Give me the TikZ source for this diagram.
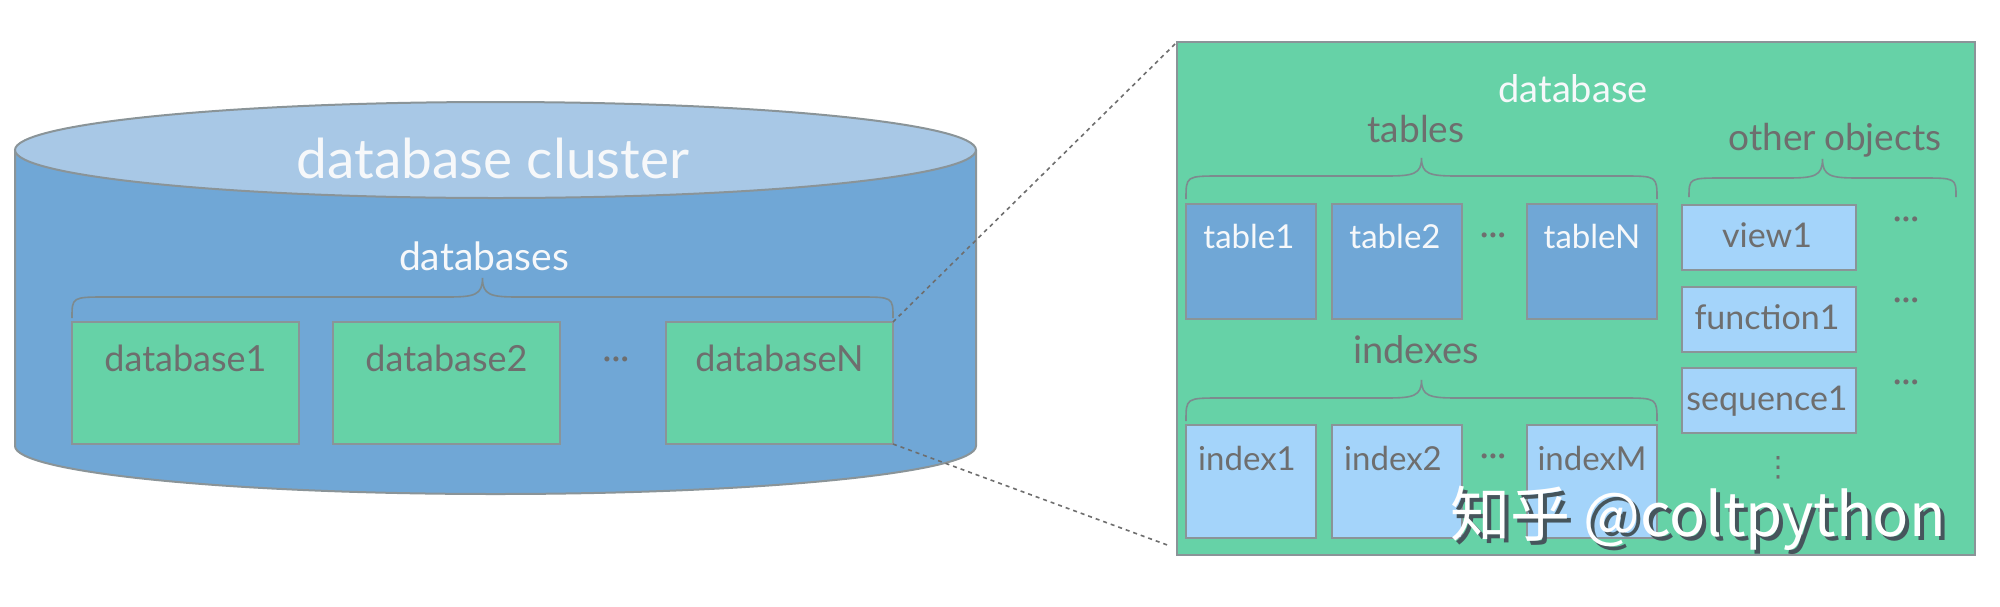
\documentclass[tikz,border=0pt]{standalone}
\usepackage{fontspec}
\setmainfont{Lato}
\newfontfamily\cjkfont{Noto Sans CJK SC}
\newfontfamily\symbolfont{DejaVu Sans}
\usetikzlibrary{calc}
\definecolor{cylblue}{RGB}{112,167,214}
\definecolor{toplight}{RGB}{168,200,230}
\definecolor{dbgreen}{RGB}{102,210,167}
\definecolor{ltblue}{RGB}{164,212,250}
\definecolor{edgegray}{RGB}{138,148,152}
\definecolor{bracegray}{RGB}{125,138,142}
\definecolor{dashgray}{RGB}{110,110,110}
\definecolor{txtgray}{RGB}{110,110,110}
\definecolor{txtwhite}{RGB}{246,248,250}
\definecolor{shadowgray}{RGB}{70,85,92}
\newcommand\fsz[1]{\fontsize{#1pt}{#1pt}\selectfont}
\newcommand\mybrace[5]{%
  \pgfmathsetmacro\bmid{(#1+#2)/2}%
  \draw[bracestyle] (#1,#3) .. controls (#1,#4) .. (#1+35,#4) -- (\bmid-35,#4)
    .. controls (\bmid-8,#4) and (\bmid,#4+2) .. (\bmid,#5)
    .. controls (\bmid,#4+2) and (\bmid+8,#4) .. (\bmid+35,#4) -- (#2-35,#4)
    .. controls (#2,#4) .. (#2,#3);}
\begin{document}
\begin{tikzpicture}[x=1pt,y=1pt,
  outline/.style={draw=edgegray,line width=2pt},
  cell/.style={outline,anchor=north west,inner sep=0pt,outer sep=0pt},
  dbcell/.style={cell,fill=dbgreen,minimum width=227pt,minimum height=122pt},
  tblcell/.style={cell,fill=cylblue,minimum width=130pt,minimum height=115pt},
  idxcell/.style={cell,fill=ltblue,minimum width=130pt,minimum height=113pt},
  objcell/.style={cell,fill=ltblue,minimum width=174pt,minimum height=65pt},
  wtxt/.style={text=txtwhite,inner sep=0pt,anchor=base},
  gtxt/.style={text=txtgray,inner sep=0pt,anchor=base},
  bracestyle/.style={draw=bracegray,line width=1.6pt},
  zoomline/.style={draw=dashgray,line width=1.6pt,dash pattern=on 4pt off 4pt},
  dots/.style={gtxt,font=\fsz{34}}
]
\useasboundingbox[fill=white] (0,0) rectangle (2000,-606);

% ---------- cylinder ----------
\path[fill=cylblue] (15,-150) -- (15,-446)
  arc[start angle=180,end angle=360,x radius=480.5,y radius=48] -- (976,-150) -- cycle;
\draw[outline] (15,-150) -- (15,-446)
  arc[start angle=180,end angle=360,x radius=480.5,y radius=48] -- (976,-150);
\draw[outline,fill=toplight] (495.5,-150) ellipse[x radius=480.5,y radius=48];

\node[wtxt,font=\fsz{55}] (clustert) at (493,-178) {database cluster};
\node[wtxt,font=\fsz{39}] (dbst) at (484,-270) {databases};
\mybrace{72}{893}{-318}{-297}{-278}

\node[dbcell] (db1) at (72,-322) {};
\node[dbcell] (db2) at (333,-322) {};
\node[dbcell] (dbN) at (666,-322) {};
\node[gtxt,font=\fsz{36}] (db1t) at (185.5,-371) {database1};
\node[gtxt,font=\fsz{36}] (db2t) at (446.5,-371) {database2};
\node[gtxt,font=\fsz{36}] (dbNt) at (779.5,-371) {databaseN};
\node[dots] (dbdots) at (616,-369) {···};

% ---------- zoom lines ----------
\node[cell,fill=dbgreen,minimum width=798pt,minimum height=513pt] (panel) at (1177,-42) {};
\coordinate (lowend) at (1170,-546);
\draw[zoomline] (dbN.north east) -- (panel.north west);
\draw[zoomline] (dbN.south east) -- (lowend);

% ---------- database panel ----------
\node[wtxt,font=\fsz{38}] (dbt) at (1573,-102) {database};
\node[gtxt,font=\fsz{37}] (tablest) at (1416,-142) {tables};
\node[gtxt,font=\fsz{37}] (othert) at (1835,-150) {other\hspace{8pt}objects};
\mybrace{1186}{1657}{-199}{-176}{-158}
\mybrace{1689}{1956}{-197}{-178}{-159}

\node[tblcell] (t1) at (1186,-204) {};
\node[tblcell] (t2) at (1332,-204) {};
\node[tblcell] (tN) at (1527,-204) {};
\node[wtxt,font=\fsz{33}] (t1t) at (1249,-248) {table1};
\node[wtxt,font=\fsz{33}] (t2t) at (1395,-248) {table2};
\node[wtxt,font=\fsz{33}] (tNt) at (1592,-248) {tableN};
\node[dots] (tdots) at (1493,-245) {···};

\node[objcell] (v1) at (1682,-205) {};
\node[objcell] (f1) at (1682,-287) {};
\node[objcell] (s1) at (1682,-368) {};
\node[gtxt,font=\fsz{34}] (v1t) at (1767,-247) {view1};
\node[gtxt,font=\fsz{34}] (f1t) at (1767,-329) {function1};
\node[gtxt,font=\fsz{34}] (s1t) at (1767,-410) {sequence1};
\node[dots] (vdots) at (1906,-229) {···};
\node[dots] (fdots) at (1906,-310) {···};
\node[dots] (sdots) at (1906,-392) {···};
\node[text=txtgray,inner sep=0pt,font=\symbolfont\fsz{28}] (vertdots) at (1778,-468) {⋮};

\node[gtxt,font=\fsz{38}] (indexest) at (1416,-363) {indexes};
\mybrace{1186}{1657}{-421}{-398}{-380}
\node[idxcell] (i1) at (1186,-425) {};
\node[idxcell] (i2) at (1332,-425) {};
\node[idxcell] (iM) at (1527,-425) {};
\node[gtxt,font=\fsz{33}] (i1t) at (1247,-470) {index1};
\node[gtxt,font=\fsz{33}] (i2t) at (1393,-470) {index2};
\node[gtxt,font=\fsz{33}] (iMt) at (1592,-470) {indexM};
\node[dots] (idots) at (1493,-466) {···};

% ---------- watermark ----------
\node[anchor=base west,inner sep=0pt,text=shadowgray,font=\cjkfont\fsz{60}] (wmshadow) at (1454,-540) {知乎 @coltpython};
\node[anchor=base west,inner sep=0pt,text=white,font=\cjkfont\fsz{60}] (wm) at (1450,-536) {知乎 @coltpython};
\end{tikzpicture}
\end{document}
